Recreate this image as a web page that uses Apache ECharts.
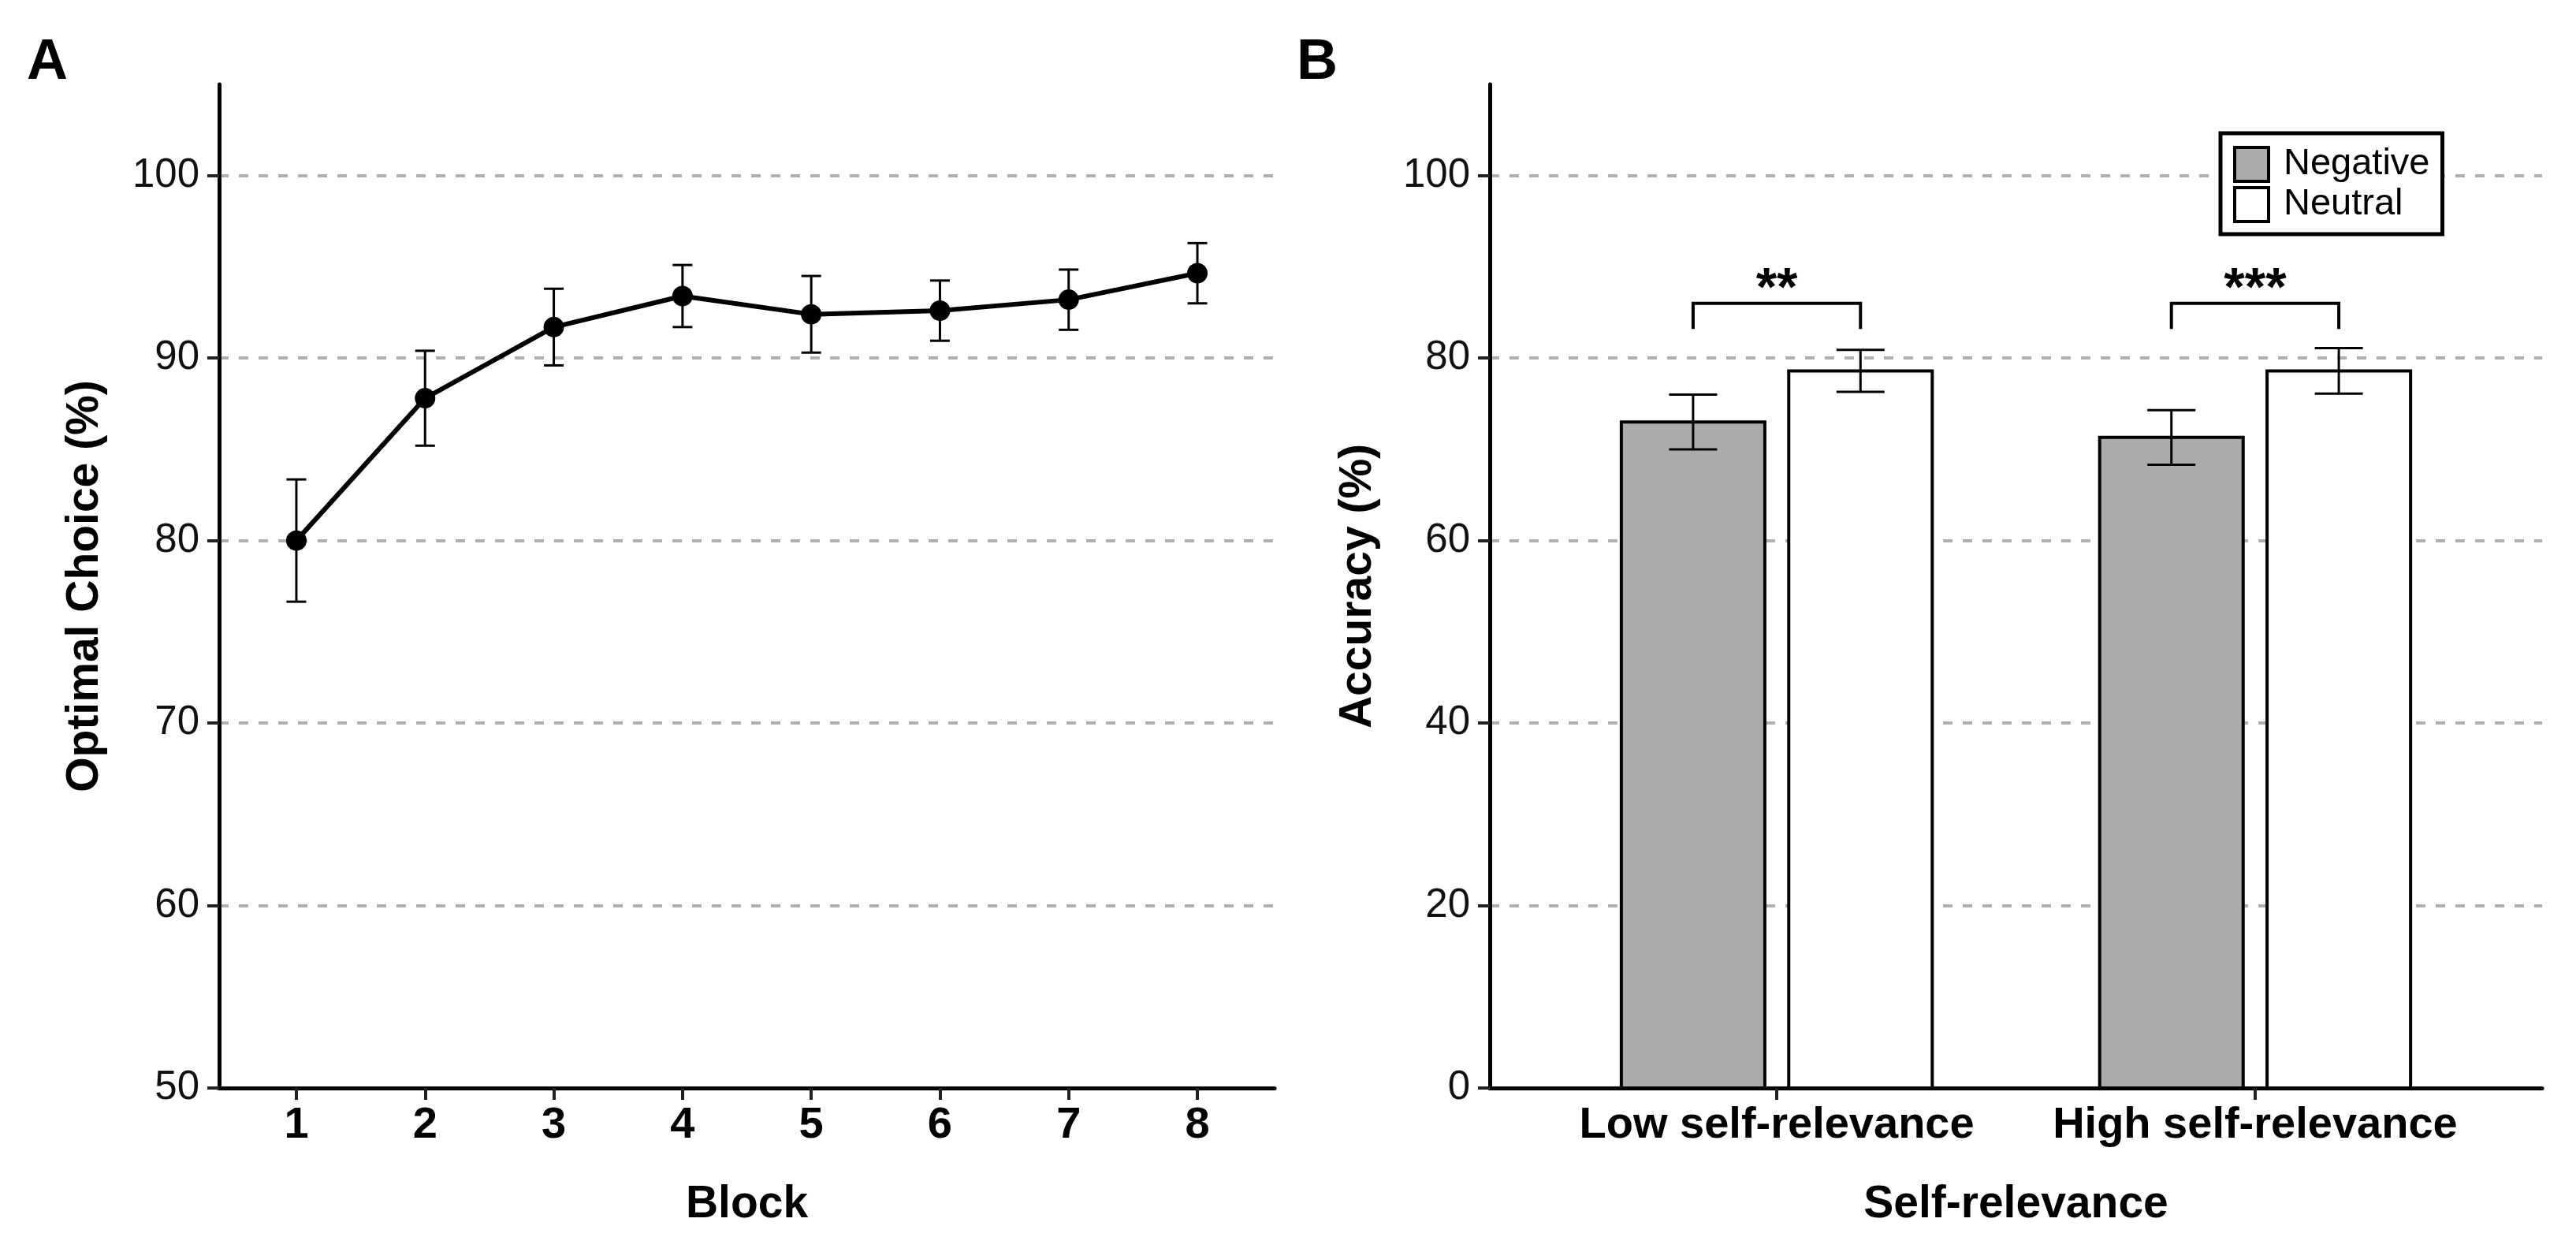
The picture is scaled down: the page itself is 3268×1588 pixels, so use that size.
<!DOCTYPE html>
<html>
<head>
<meta charset="utf-8">
<title>Optimal choice and accuracy</title>
<script src="https://cdn.jsdelivr.net/npm/echarts@6/dist/echarts.min.js"></script>
<style>
  html, body { margin: 0; padding: 0; background: #fff; }
  #chart { width: 3268px; height: 1588px; }
</style>
</head>
<body>
<div id="chart"></div>
<script>
// panel A: optimal choice per block
var blocks = [1, 2, 3, 4, 5, 6, 7, 8]
var optimalMean = [80.0, 87.8, 91.7, 93.4, 92.4, 92.6, 93.2, 94.65]
var optimalErr = [3.35, 2.6, 2.1, 1.7, 2.1, 1.65, 1.65, 1.65]
var optimalTicks = [50, 60, 70, 80, 90, 100]

// panel B: accuracy by self-relevance
var relevance = ['Low self-relevance', 'High self-relevance']
var negativeMean = [73.0, 71.3]
var negativeErr = [3.0, 3.0]
var neutralMean = [78.6, 78.6]
var neutralErr = [2.3, 2.5]
var accuracyTicks = [0, 20, 40, 60, 80, 100]
var sigLabels = ['**', '***']
var sigBase = [83.2, 83.2]
var sigTop = [86, 86]

var FONT = "'Liberation Sans', Arial, Helvetica, sans-serif"
var BAR_W = 0.3      // bar width in category units
var DODGE = 0.175    // half distance between bar centres
var STAR_Y = 87.4

var relIdx = relevance.map(function (r, i) { return i + 1 })

function errRender (capPx) {
  return function (params, api) {
    var x = api.value(0)
    var pLo = api.coord([x, api.value(1)])
    var pHi = api.coord([x, api.value(2)])
    var st = { stroke: '#000', lineWidth: 3 }
    return {
      type: 'group',
      children: [
        { type: 'line', shape: { x1: pHi[0], y1: pHi[1], x2: pLo[0], y2: pLo[1] }, style: st },
        { type: 'line', shape: { x1: pHi[0] - capPx / 2, y1: pHi[1], x2: pHi[0] + capPx / 2, y2: pHi[1] }, style: st },
        { type: 'line', shape: { x1: pLo[0] - capPx / 2, y1: pLo[1], x2: pLo[0] + capPx / 2, y2: pLo[1] }, style: st }
      ]
    }
  }
}

function barRender (fill) {
  return function (params, api) {
    var x = api.value(0)
    var p0 = api.coord([x - BAR_W / 2, api.value(1)])
    var p1 = api.coord([x + BAR_W / 2, 0])
    return {
      type: 'rect',
      shape: { x: p0[0], y: p0[1], width: p1[0] - p0[0], height: p1[1] - p0[1] },
      style: { fill: fill, stroke: '#000', lineWidth: 4 }
    }
  }
}

function bracketRender (params, api) {
  var c = api.value(0)
  var a = api.coord([c - DODGE, api.value(1)])
  var b = api.coord([c - DODGE, api.value(2)])
  var d = api.coord([c + DODGE, api.value(2)])
  var e = api.coord([c + DODGE, api.value(1)])
  var t = api.coord([c, STAR_Y])
  return {
    type: 'group',
    children: [
      { type: 'polyline', shape: { points: [a, b, d, e] }, style: { stroke: '#000', lineWidth: 4, fill: null } },
      { type: 'text', x: t[0], y: t[1], style: { text: sigLabels[params.dataIndex], fill: '#000', font: 'bold 68px ' + FONT, textAlign: 'center', textVerticalAlign: 'middle' } }
    ]
  }
}

var axisLineStyle = { color: '#000', width: 5 }
var tickStyle = { length: 15, lineStyle: { color: '#222', width: 4 } }
var gridLine = { show: true, showMinLine: false, showMaxLine: true, lineStyle: { color: '#b0b0b0', width: 4, type: [12, 13] } }

var option = {
  animation: false,
  backgroundColor: '#fff',
  textStyle: { fontFamily: FONT },
  grid: [
    { left: 278, top: 107, width: 1339, height: 1273 },
    { left: 1890, top: 107, width: 1335, height: 1273 }
  ],
  graphic: [
    { type: 'text', left: 34, top: 44, style: { text: 'A', font: 'bold 72px ' + FONT, fill: '#000' } },
    { type: 'text', left: 1645, top: 44, style: { text: 'B', font: 'bold 72px ' + FONT, fill: '#000' } }
  ],
  legend: {
    orient: 'vertical',
    left: 2817,
    top: 169,
    selectedMode: false,
    itemWidth: 43,
    itemHeight: 43,
    itemGap: 4,
    padding: [16, 16, 14, 16],
    backgroundColor: '#fff',
    borderColor: '#000',
    borderWidth: 5,
    textStyle: { fontSize: 47, fontFamily: FONT, color: '#000', padding: [0, 0, 0, 14] },
    data: [
      { name: 'Negative', icon: 'rect', itemStyle: { color: '#ababab', borderColor: '#000', borderWidth: 4 } },
      { name: 'Neutral', icon: 'rect', itemStyle: { color: '#fff', borderColor: '#000', borderWidth: 4 } }
    ]
  },
  xAxis: [
    {
      type: 'value', gridIndex: 0, min: 0.4, max: 8.6,
      name: 'Block', nameLocation: 'middle', nameGap: 120,
      nameTextStyle: { fontSize: 57, fontWeight: 'bold', color: '#000', fontFamily: FONT },
      axisLine: { show: true, onZero: false, lineStyle: axisLineStyle },
      axisTick: Object.assign({ customValues: blocks }, tickStyle),
      axisLabel: { customValues: blocks, margin: 20, fontSize: 56, fontWeight: 'bold', color: '#000', fontFamily: FONT },
      splitLine: { show: false }
    },
    {
      type: 'value', gridIndex: 1, min: 0.4, max: 2.6,
      name: 'Self-relevance', nameLocation: 'middle', nameGap: 120,
      nameTextStyle: { fontSize: 57, fontWeight: 'bold', color: '#000', fontFamily: FONT },
      axisLine: { show: true, onZero: false, lineStyle: axisLineStyle },
      axisTick: Object.assign({ customValues: relIdx }, tickStyle),
      axisLabel: {
        customValues: relIdx, margin: 20, fontSize: 56, fontWeight: 'bold', color: '#000', fontFamily: FONT,
        formatter: function (v) { return relevance[Math.round(v) - 1] }
      },
      splitLine: { show: false }
    }
  ],
  yAxis: [
    {
      type: 'value', gridIndex: 0, min: 50, max: 105, interval: 10,
      name: 'Optimal Choice (%)', nameLocation: 'middle', nameGap: 141,
      nameTextStyle: { fontSize: 57, fontWeight: 'bold', color: '#000', fontFamily: FONT },
      axisLine: { show: true, onZero: false, lineStyle: axisLineStyle },
      axisTick: Object.assign({ customValues: optimalTicks }, tickStyle),
      axisLabel: { customValues: optimalTicks, margin: 25, fontSize: 51, color: '#111', fontFamily: FONT },
      splitLine: gridLine
    },
    {
      type: 'value', gridIndex: 1, min: 0, max: 110, interval: 20,
      name: 'Accuracy (%)', nameLocation: 'middle', nameGap: 138,
      nameTextStyle: { fontSize: 57, fontWeight: 'bold', color: '#000', fontFamily: FONT },
      axisLine: { show: true, onZero: false, lineStyle: axisLineStyle },
      axisTick: Object.assign({ customValues: accuracyTicks }, tickStyle),
      axisLabel: { customValues: accuracyTicks, margin: 25, fontSize: 51, color: '#111', fontFamily: FONT },
      splitLine: gridLine
    }
  ],
  series: [
    {
      type: 'custom', name: 'optimalErr', xAxisIndex: 0, yAxisIndex: 0, z: 3,
      renderItem: errRender(25),
      encode: { x: 0, y: [1, 2] },
      data: blocks.map(function (b, i) { return [b, optimalMean[i] - optimalErr[i], optimalMean[i] + optimalErr[i]] })
    },
    {
      type: 'line', name: 'Optimal', xAxisIndex: 0, yAxisIndex: 0, z: 4,
      symbol: 'circle', symbolSize: 26,
      lineStyle: { color: '#000', width: 6 },
      itemStyle: { color: '#000' },
      data: blocks.map(function (b, i) { return [b, optimalMean[i]] })
    },
    {
      type: 'custom', name: 'Negative', xAxisIndex: 1, yAxisIndex: 1, z: 3,
      itemStyle: { color: '#ababab' },
      renderItem: barRender('#ababab'),
      encode: { x: 0, y: 1 },
      data: relIdx.map(function (c, i) { return [c - DODGE, negativeMean[i]] })
    },
    {
      type: 'custom', name: 'Neutral', xAxisIndex: 1, yAxisIndex: 1, z: 3,
      itemStyle: { color: '#fff' },
      renderItem: barRender('#fff'),
      encode: { x: 0, y: 1 },
      data: relIdx.map(function (c, i) { return [c + DODGE, neutralMean[i]] })
    },
    {
      type: 'custom', name: 'accErr', xAxisIndex: 1, yAxisIndex: 1, z: 4,
      renderItem: errRender(61),
      encode: { x: 0, y: [1, 2] },
      data: relIdx.map(function (c, i) { return [c - DODGE, negativeMean[i] - negativeErr[i], negativeMean[i] + negativeErr[i]] })
        .concat(relIdx.map(function (c, i) { return [c + DODGE, neutralMean[i] - neutralErr[i], neutralMean[i] + neutralErr[i]] }))
    },
    {
      type: 'custom', name: 'sig', xAxisIndex: 1, yAxisIndex: 1, z: 4,
      renderItem: bracketRender,
      encode: { x: 0, y: [1, 2] },
      data: relIdx.map(function (c, i) { return [c, sigBase[i], sigTop[i]] })
    }
  ]
}

var myChart = echarts.init(document.getElementById('chart'), null, { renderer: 'canvas' })
myChart.setOption(option)
</script>
</body>
</html>
